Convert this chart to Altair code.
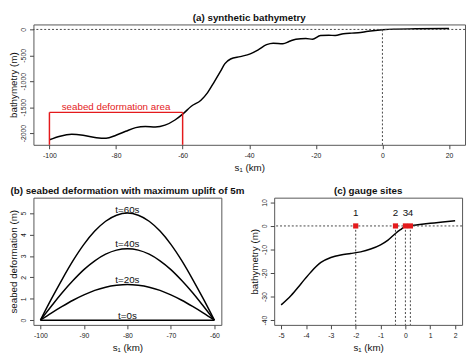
import altair as alt
import pandas as pd

# ---------------- data ----------------
# (a) synthetic bathymetry
bathy_x = [-100, -96.8, -93.3, -89.9, -85.9, -83.0, -80.0, -77.1, -74.1, -71.2, -68.2, -65.3,
           -62.3, -59.9, -57.4, -54.5, -52.5, -50.5, -48.6, -47.3, -45.6, -42.7, -39.7, -37.3,
           -34.8, -32.8, -29.9, -27.9, -26.0, -23.0, -21.0, -18.6, -16.1, -14.2, -11.7, -9.2,
           -7.3, -4.3, 0.0, 3.5, 10.0, 20.0]
bathy_y = [-2129, -2059, -2024, -2041, -2088, -2100, -2041, -1965, -1894, -1871, -1882, -1847,
           -1747, -1629, -1482, -1365, -1218, -1012, -806, -660, -571, -524, -471, -394,
           -294, -265, -276, -229, -188, -176, -188, -118, -112, -118, -82, -71,
           -65, -35, -6, 6, 12, 18]
deform_area = [-100, -60]
deform_top = -1600

# (b) seabed deformation
def_x = [-100, -97.5, -95, -92.5, -90, -87.5, -85, -82.5, -80,
         -77.5, -75, -72.5, -70, -67.5, -65, -62.5, -60]
def_t0 = [0] * 17
def_t20 = [0, 0.33, 0.64, 0.93, 1.18, 1.39, 1.54, 1.63, 1.67,
           1.63, 1.54, 1.39, 1.18, 0.93, 0.64, 0.33, 0]
def_t40 = [0, 0.65, 1.28, 1.85, 2.36, 2.77, 3.08, 3.27, 3.33,
           3.27, 3.08, 2.77, 2.36, 1.85, 1.28, 0.65, 0]
def_t60 = [0, 0.98, 1.91, 2.78, 3.54, 4.16, 4.62, 4.90, 5.0,
           4.90, 4.62, 4.16, 3.54, 2.78, 1.91, 0.98, 0]
def_labels = ["t=0s", "t=20s", "t=40s", "t=60s"]
def_label_y = [0.17, 1.88, 3.57, 5.12]

# (c) gauge sites
coast_x = [-5, -4.6, -4.2, -3.8, -3.4, -3.0, -2.6, -2.2, -1.8, -1.4, -1.0, -0.7, -0.4, -0.2,
           0.0, 0.5, 1.0, 1.5, 2.0]
coast_y = [-33.5, -29.5, -24.5, -19.5, -15.5, -13.4, -12.3, -11.7, -11.0, -9.8, -8.0, -6.0,
           -3.2, -1.6, -0.2, 0.5, 1.1, 1.7, 2.2]
gauge_x = [-2, -0.4, 0, 0.2]
gauge_labels = ["1", "2", "3", "4"]
gauge_label_y = 5.3

titles = ["(a) synthetic bathymetry",
          "(b) seabed deformation with maximum uplift of 5m",
          "(c) gauge sites"]

# ---------------- styling helpers ----------------
FONT = "Liberation Sans"
RED = "#e41a1c"
DOT = "#444444"

COMMON = dict(labelExpr="toString(datum.value)", labelOverlap=False, labelFlush=False,
              labelSeparation=0, domain=False, grid=False, tickSize=4, tickColor="#444",
              labelPadding=3, labelFontSize=7, labelColor="#222", labelFont=FONT,
              titleFontSize=10, titleFontWeight="normal", titleColor="#111", titleFont=FONT)


def xaxis(title, values):
    return alt.Axis(title=title, values=values, titlePadding=4, **COMMON)


def yaxis(title, values):
    return alt.Axis(title=title, values=values, labelAngle=270, labelAlign="center",
                    labelBaseline="bottom", titlePadding=1, **COMMON)


def title_mark(text, w):
    return alt.Chart(pd.DataFrame({"t": [text]})).mark_text(
        fontSize=10, fontWeight="bold", font=FONT, color="#111",
        align="center", baseline="alphabetic").encode(
        x=alt.value(w / 2), y=alt.value(-4), text="t:N")


# ---------------- panel (a) ----------------
xa = alt.Scale(domain=[-104.8, 24.8], nice=False, zero=False)
ya = alt.Scale(domain=[-2226, 96], nice=False, zero=False)
ax_xa = xaxis("s₁ (km)", [-100, -80, -60, -40, -20, 0, 20])
ax_ya = yaxis("bathymetry (m)", [-2000, -1500, -1000, -500, 0])
XA = alt.X("x:Q", scale=xa, axis=ax_xa)
YA = alt.Y("y:Q", scale=ya, axis=ax_ya)
A_W, A_H = 441, 123

df_a = pd.DataFrame({"x": bathy_x, "y": bathy_y})
line_a = alt.Chart(df_a).mark_line(color="black", strokeWidth=1.5, interpolate="monotone").encode(
    x=XA, y=YA)
hline_a = alt.Chart(pd.DataFrame({"y": [0]})).mark_rule(
    color=DOT, strokeDash=[2, 2], strokeWidth=1).encode(y=YA)
vline_a = alt.Chart(pd.DataFrame({"x": [0], "y": [0], "y2": [-2226]})).mark_rule(
    color=DOT, strokeDash=[2, 2], strokeWidth=1).encode(x=XA, y=YA, y2="y2:Q")
rect_df = pd.DataFrame({
    "x": [deform_area[0], deform_area[1], deform_area[0]],
    "x2": [deform_area[0], deform_area[1], deform_area[1]],
    "y": [deform_top, deform_top, deform_top],
    "y2": [-2226, -2226, deform_top],
})
rect_a = alt.Chart(rect_df).mark_rule(color=RED, strokeWidth=1.5).encode(
    x=XA, x2="x2:Q", y=YA, y2="y2:Q")
text_a = alt.Chart(pd.DataFrame({"x": [-80], "y": [-1500], "t": ["seabed deformation area"]})).mark_text(
    color=RED, fontSize=10, font=FONT, baseline="middle").encode(x=XA, y=YA, text="t:N")

panel_a = alt.layer(line_a, hline_a, vline_a, rect_a, text_a, title_mark(titles[0], A_W)).properties(
    width=A_W, height=A_H)

# ---------------- panel (b) ----------------
xb = alt.Scale(domain=[-101.6, -58.4], nice=False, zero=False)
yb = alt.Scale(domain=[-0.22, 5.72], nice=False, zero=False)
XB = alt.X("x:Q", scale=xb, axis=xaxis("s₁ (km)", [-100, -90, -80, -70, -60]))
YB = alt.Y("y:Q", scale=yb, axis=yaxis("seabed deformation (m)", [0, 1, 2, 3, 4, 5]))
B_W, B_H = 192, 130

rows = []
for lab, vals in zip(def_labels, [def_t0, def_t20, def_t40, def_t60]):
    for xv, yv in zip(def_x, vals):
        rows.append({"x": xv, "y": yv, "t": lab})
df_b = pd.DataFrame(rows)
line_b = alt.Chart(df_b).mark_line(color="black", strokeWidth=1.5, interpolate="monotone").encode(
    x=XB, y=YB, detail="t:N")
text_b = alt.Chart(pd.DataFrame({"x": [-80] * 4, "y": def_label_y, "t": def_labels})).mark_text(
    fontSize=10, font=FONT, baseline="middle", color="#111").encode(x=XB, y=YB, text="t:N")
panel_b = alt.layer(line_b, text_b, title_mark(titles[1], B_W)).properties(
    width=B_W, height=B_H)

# ---------------- panel (c) ----------------
xc = alt.Scale(domain=[-5.28, 2.28], nice=False, zero=False)
yc = alt.Scale(domain=[-42, 12], nice=False, zero=False)
XC = alt.X("x:Q", scale=xc, axis=xaxis("s₁ (km)", [-5, -4, -3, -2, -1, 0, 1, 2]))
YC = alt.Y("y:Q", scale=yc, axis=yaxis("bathymetry (m)", [-40, -30, -20, -10, 0, 10]))
C_W, C_H = 192, 130

df_c = pd.DataFrame({"x": coast_x, "y": coast_y})
line_c = alt.Chart(df_c).mark_line(color="black", strokeWidth=1.5, interpolate="monotone").encode(
    x=XC, y=YC)
hline_c = alt.Chart(pd.DataFrame({"y": [0]})).mark_rule(
    color=DOT, strokeDash=[2, 2], strokeWidth=1).encode(y=YC)
vlines_c = alt.Chart(pd.DataFrame({"x": gauge_x, "y": [0] * 4, "y2": [-42] * 4})).mark_rule(
    color=DOT, strokeDash=[2, 2], strokeWidth=1).encode(x=XC, y=YC, y2="y2:Q")
pts_c = alt.Chart(pd.DataFrame({"x": gauge_x, "y": [0] * 4})).mark_square(
    color=RED, size=28, opacity=1).encode(x=XC, y=YC)
lab_c = alt.Chart(pd.DataFrame({"x": gauge_x, "y": [gauge_label_y] * 4, "t": gauge_labels})).mark_text(
    fontSize=10, font=FONT, baseline="middle", color="#111").encode(x=XC, y=YC, text="t:N")
panel_c = alt.layer(line_c, hline_c, vlines_c, pts_c, lab_c, title_mark(titles[2], C_W)).properties(
    width=C_W, height=C_H)

bottom = alt.hconcat(panel_b, panel_c, spacing=54, bounds="flush")
chart = alt.vconcat(panel_a, bottom, spacing=54, bounds="flush").properties(
    padding=0, background="white"
).configure_view(
    stroke="#555", strokeWidth=1
)

chart.save("out.html", embed_options={"renderer": "svg", "actions": False})
